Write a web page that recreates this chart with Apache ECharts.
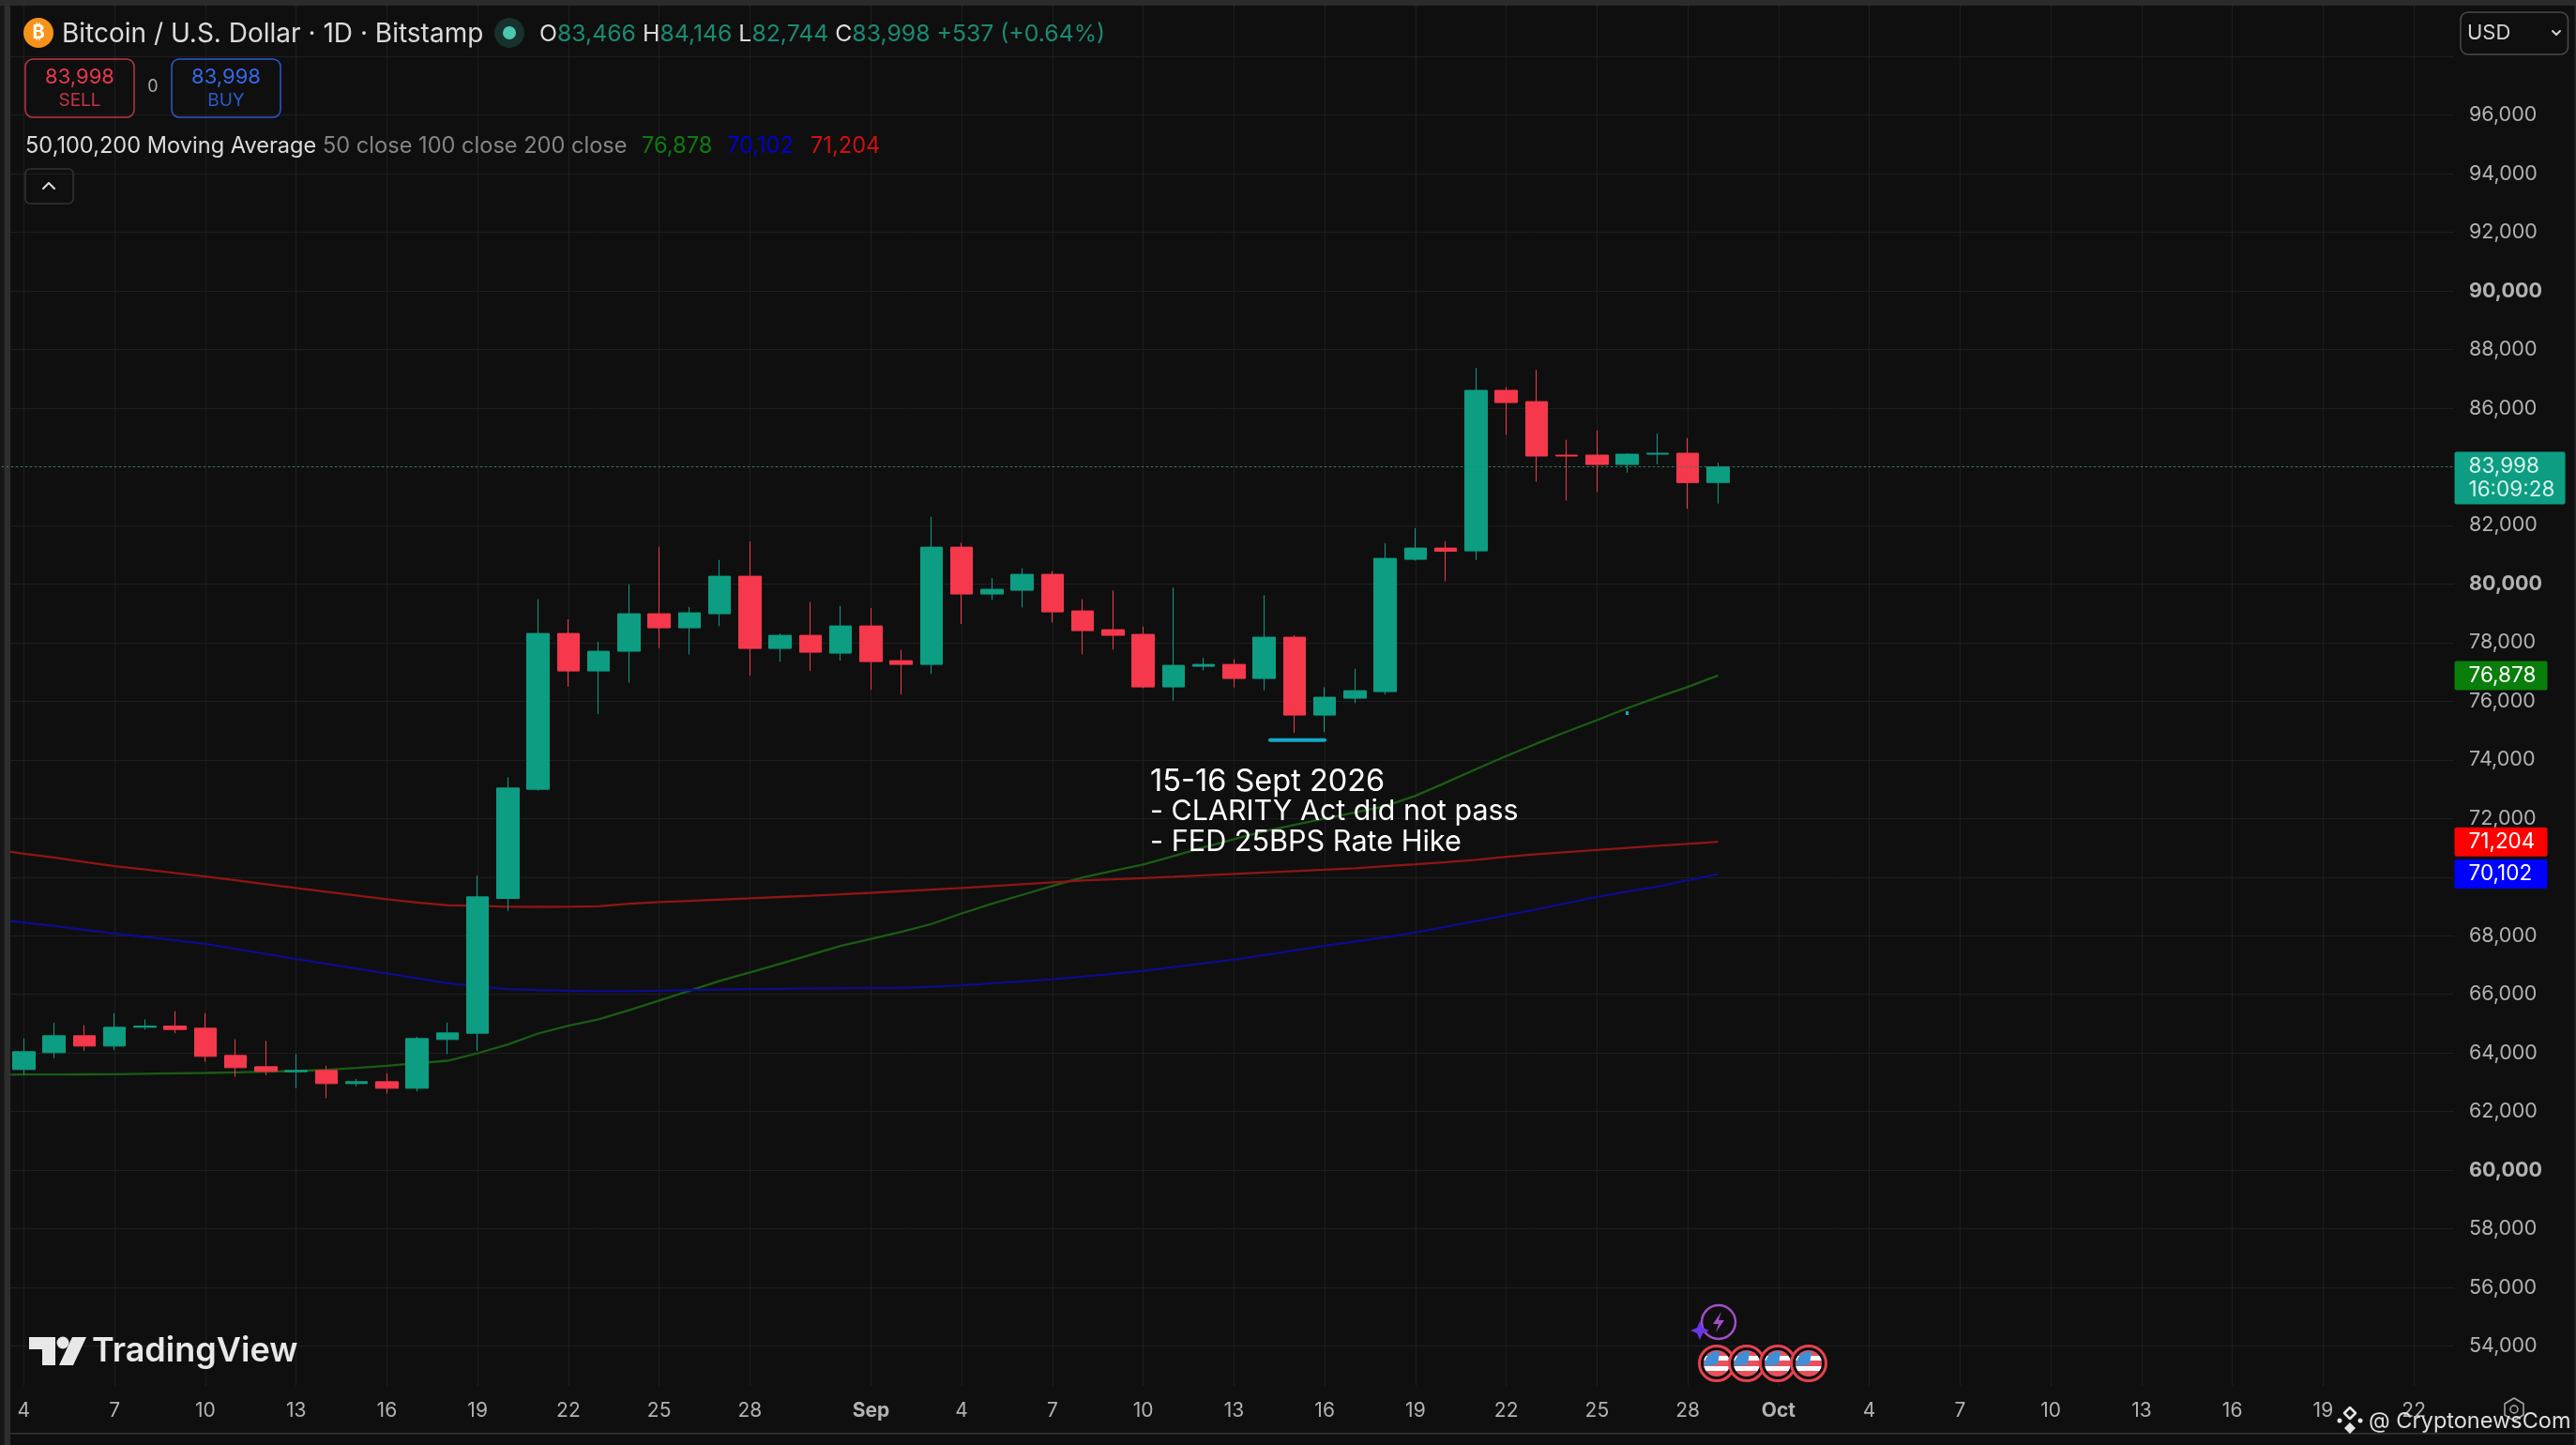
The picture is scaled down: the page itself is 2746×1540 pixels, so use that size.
<!DOCTYPE html>
<html>
<head>
<meta charset="utf-8">
<style>html,body{margin:0;padding:0;background:#0f0f0f;overflow:hidden}#chart{position:absolute;left:-40px;top:0;width:2786px;height:1540px}</style>
<script src="https://cdn.jsdelivr.net/npm/echarts@6/dist/echarts.min.js"></script>
</head>
<body>
<div id="chart"></div>
<script>
// days on the time axis, Aug 3 only sits under the left edge so the MA lines reach it
const augDays = [3,4,5,6,7,8,9,10,11,12,13,14,15,16,17,18,19,20,21,22,23,24,25,26,27,28,29,30,31];
const sepDays = [1,2,3,4,5,6,7,8,9,10,11,12,13,14,15,16,17,18,19,20,21,22,23,24,25,26,27,28,29,30];
const octDays = [1,2,3,4,5,6,7,8,9,10,11,12,13,14,15,16,17,18,19,20,21,22,23];
const categories = [...augDays.map(d => 'Aug ' + d), ...sepDays.map(d => 'Sep ' + d), ...octDays.map(d => 'Oct ' + d)];

const tickDates = ['Aug 4','Aug 7','Aug 10','Aug 13','Aug 16','Aug 19','Aug 22','Aug 25','Aug 28','Sep 1','Sep 4','Sep 7','Sep 10','Sep 13','Sep 16','Sep 19','Sep 22','Sep 25','Sep 28','Oct 1','Oct 4','Oct 7','Oct 10','Oct 13','Oct 16','Oct 19','Oct 22'];
const tickLabels = ['4','7','10','13','16','19','22','25','28','Sep','4','7','10','13','16','19','22','25','28','Oct','4','7','10','13','16','19','22'];

const priceLines = [54000,56000,58000,60000,62000,64000,66000,68000,70000,72000,74000,76000,78000,80000,82000,84000,86000,88000,90000,92000,94000,96000,98000];
const priceLabels = [54000,56000,58000,60000,62000,64000,66000,68000,70000,72000,74000,76000,78000,80000,82000,86000,88000,90000,92000,94000,96000];

const opens = ['-',63434,64011,64587,64235,64875,64918,64843,63915,63530,63360,63402,62954,63018,62794,64459,64673,69272,72997,78314,77033,77706,78986,78506,78986,80267,77802,78250,77642,78570,77385,77257,81259,79659,79787,80331,79082,78442,78282,76489,77193,77257,76777,78186,75528,76105,76329,80843,81227,81131,86608,86224,84399,84399,84079,84431,84463,83466];
const closes = ['-',64043,64587,64235,64875,64918,64800,63883,63498,63370,63402,62954,63018,62794,64491,64683,69326,73040,78314,77033,77706,78986,78506,79018,80267,77802,78250,77673,78570,77353,77257,81259,79659,79819,80331,79050,78410,78250,76489,77225,77257,76777,78186,75528,76137,76361,80875,81227,81121,86608,86192,84367,84367,84079,84431,84463,83461,83998];
const lows = ['-',63253,63819,64075,64096,64800,64672,63701,63178,63242,62794,62453,62858,62613,62687,63968,64075,68845,72950,76500,75560,76638,77812,77599,78559,76873,77353,77033,77385,76393,76233,76926,78634,79466,79200,78687,77599,77759,76446,76019,77054,76468,76372,74920,74952,75934,76233,80800,80096,80822,85093,83492,82852,83140,83802,84090,82564,82744];
const highs = ['-',64501,65035,64950,65355,65142,65430,65355,64470,64416,63968,63562,63114,63306,64555,65035,70051,73402,79477,78794,78026,79989,81270,79221,80822,81451,78314,79381,79253,79178,77748,82294,81409,80203,80534,80438,79477,79776,78549,79883,77481,77428,79616,78261,76479,77107,81398,81910,81462,87377,86726,87302,84922,85242,84453,85136,84986,84146];

const ma50 = [63250,63264,63265,63270,63274,63290,63305,63317,63340,63360,63381,63424,63490,63562,63648,63733,63990,64288,64662,64928,65144,65460,65785,66120,66457,66745,67045,67350,67652,67895,68132,68400,68760,69093,69392,69701,69990,70213,70427,70715,71014,71290,71569,71782,71996,72209,72423,72775,73223,73682,74130,74557,74963,75357,75763,76136,76489,76878];
const ma100 = [68560,68453,68330,68200,68079,67960,67845,67727,67550,67380,67204,67040,66875,66713,66545,66382,66265,66180,66150,66126,66105,66110,66126,66145,66160,66180,66190,66200,66211,66218,66222,66260,66310,66380,66445,66514,66600,66700,66800,66930,67060,67190,67340,67500,67660,67800,67950,68110,68310,68500,68700,68900,69115,69328,69505,69680,69890,70102];
const ma200 = [70950,70800,70670,70520,70373,70260,70140,70021,69895,69760,69626,69500,69370,69242,69130,69040,69018,68986,68985,68986,69007,69093,69146,69190,69232,69274,69320,69365,69413,69465,69520,69575,69626,69690,69755,69820,69883,69925,69968,70011,70060,70110,70160,70205,70250,70299,70370,70440,70512,70587,70694,70779,70855,70928,71000,71067,71135,71204];

const lastPrice = 83998;
const lastMa50 = 76878, lastMa100 = 70102, lastMa200 = 71204;

const candles = categories.map((c, i) => i < opens.length ? [opens[i], closes[i], lows[i], highs[i]] : ['-','-','-','-']);

const font = 'Inter, "Noto Sans", sans-serif';
const up = '#0d9d82', down = '#f5384c';

function fmt(v) { return String(v).replace(/(\d)(\d{3})$/, '$1,$2'); }

function txt(x, y, text, size, color, extra) {
    return {
        type: 'text', x: x, y: y, z: 20, silent: true,
        style: Object.assign({ text: text, fontSize: size, fill: color, fontFamily: font, textVerticalAlign: 'middle' }, extra || {})
    };
}

function rich(x, y, text, size, richStyles) {
    return {
        type: 'text', x: x, y: y, z: 20, silent: true,
        style: { text: text, fontSize: size, fontFamily: font, textVerticalAlign: 'middle', rich: richStyles }
    };
}

function box(x, y, w, h, r, stroke) {
    return {
        type: 'rect', z: 19, silent: true,
        shape: { x: x, y: y, width: w, height: h, r: r },
        style: { fill: 'transparent', stroke: stroke, lineWidth: 1.5 }
    };
}

function rect(x, y, w, h, fill, z) {
    return { type: 'rect', z: z, silent: true, shape: { x: x, y: y, width: w, height: h }, style: { fill: fill } };
}

function circle(cx, cy, r, fill, stroke, lw) {
    return {
        type: 'circle', z: 20, silent: true,
        shape: { cx: cx, cy: cy, r: r },
        style: { fill: fill, stroke: stroke || null, lineWidth: lw || 0 }
    };
}

function poly(points, fill, stroke, lw, type) {
    return {
        type: type || 'polygon', z: 20, silent: true,
        shape: { points: points },
        style: { fill: fill, stroke: stroke || null, lineWidth: lw || 0, lineCap: 'round', lineJoin: 'round' }
    };
}

// flag badge of an economic event
function flag(cx, cy) {
    const stripes = [];
    const colors = ['#e8515b', '#ffffff', '#e8515b', '#ffffff', '#e8515b'];
    colors.forEach((c, i) => {
        stripes.push({ offset: i / 5, color: c });
        stripes.push({ offset: (i + 1) / 5, color: c });
    });
    return [
        circle(cx, cy, 18.5, '#0f0f0f', '#e5414f', 3),
        circle(cx, cy, 14, { type: 'linear', x: 0, y: 0, x2: 0, y2: 1, colorStops: stripes }),
        {
            type: 'sector', z: 21, silent: true,
            shape: { cx: cx + 1, cy: cy + 1, r: 14, r0: 0, startAngle: Math.PI * 0.95, endAngle: Math.PI * 1.55 },
            style: { fill: '#3f8fd8' }
        }
    ];
}

const chart = echarts.init(document.getElementById('chart'));

const graphics = [
    // frame of the screenshot
    rect(0, 0, 2746, 6, '#2b2b2b', 5),
    rect(-40, 6, 44.5, 1534, '#161616', 5),
    rect(4.5, 6, 6.5, 1534, '#2e2e2e', 5),
    rect(2616, 6, 6, 1471, '#0f0f0f', 1),
    rect(11, 1527, 2735, 1.5, '#343434', 5),
    rect(2744.5, 6, 1.5, 1534, '#262626', 5),

    // symbol header
    circle(41, 35, 16, '#f7931a'),
    txt(41, 35, '₿', 20, '#ffffff', { textAlign: 'center', fontWeight: 'bold' }),
    txt(66, 37, 'Bitcoin / U.S. Dollar · 1D · Bitstamp', 28, '#dbdbdb'),
    circle(543, 35, 16, '#17312d'),
    circle(543, 35, 7, '#4cc6af'),
    rich(575, 37, '{k|O}{v|83,466} {k|H}{v|84,146} {k|L}{v|82,744} {k|C}{v|83,998} {v|+537 (+0.64%)}', 24.8, {
        k: { fontSize: 24.8, fontFamily: font, fill: '#dbdbdb', color: '#dbdbdb' },
        v: { fontSize: 24.8, fontFamily: font, fill: '#1b8a74', color: '#1b8a74' }
    }),

    // sell / buy buttons
    box(27, 63, 116, 62, 8, '#c53348'),
    txt(85, 82, '83,998', 22, '#e5394f', { textAlign: 'center' }),
    txt(85, 107, 'SELL', 19, '#c53348', { textAlign: 'center' }),
    txt(163, 93, '0', 18, '#a8a8a8', { textAlign: 'center' }),
    box(183, 63, 116, 62, 8, '#2a5bd0'),
    txt(241, 82, '83,998', 22, '#3568e8', { textAlign: 'center' }),
    txt(241, 107, 'BUY', 19, '#2a5bd0', { textAlign: 'center' }),

    // moving average legend
    txt(27, 155.5, '50,100,200 Moving Average', 23.6, '#dbdbdb'),
    txt(344, 155.5, '50 close 100 close 200 close', 23.6, '#858585'),
    txt(684, 155.5, fmt(lastMa50), 23.6, '#0e7a0e'),
    txt(775, 155.5, fmt(lastMa100), 23.6, '#0000d0'),
    txt(864, 155.5, fmt(lastMa200), 23.6, '#d01010'),
    box(27, 180, 51, 37, 5, '#333333'),
    poly([[46, 201], [52, 195], [58, 201]], 'transparent', '#dddddd', 2, 'polyline'),

    // currency button
    box(2623, 13, 114.5, 45, 8, '#4a4a4a'),
    txt(2630, 35, 'USD', 22, '#d4d4d4'),
    poly([[2721, 33], [2725, 37], [2729, 33]], 'transparent', '#d4d4d4', 2, 'polyline'),

    // note on the chart
    {
        type: 'line', z: 20, silent: true,
        shape: { x1: 1354, y1: 788.7, x2: 1412, y2: 788.7 },
        style: { stroke: '#14a8c8', lineWidth: 4, lineCap: 'round' }
    },
    rect(1733, 758, 3, 4, '#14a8c8', 20),
    txt(1226, 833, '15-16 Sept 2026', 32.5, '#ffffff'),
    txt(1226, 865, '- CLARITY Act did not pass', 30.4, '#ffffff'),
    txt(1226, 898, '- FED 25BPS Rate Hike', 30.6, '#ffffff'),

    // TradingView logo
    poly([[31, 1425], [59, 1425], [59, 1455], [45, 1455], [45, 1438], [31, 1438]], '#e8e8e8'),
    circle(67, 1431, 6.5, '#e8e8e8'),
    poly([[77, 1425], [92, 1425], [78, 1455], [63, 1455]], '#e8e8e8'),
    txt(98, 1440, 'TradingView', 36, '#e8e8e8', { fontWeight: 600 }),

    // event icons
    circle(1832, 1409, 18, 'transparent', '#a24fc9', 2.5),
    poly([[1835, 1398], [1826, 1411], [1832, 1411], [1829, 1420], [1838, 1407], [1832, 1407]], '#a24fc9'),
    poly([[1812, 1408], [1815, 1415], [1822, 1418], [1815, 1421], [1812, 1428], [1809, 1421], [1802, 1418], [1809, 1415]], '#6a35e8'),
    ...flag(1830, 1453), ...flag(1862, 1453), ...flag(1895, 1453), ...flag(1928, 1453),

    // settings icon
    poly([[2680, 1490], [2690, 1496], [2690, 1508], [2680, 1514], [2670, 1508], [2670, 1496]], 'transparent', '#aaaaaa', 1.5),
    circle(2680, 1502, 4, 'transparent', '#aaaaaa', 1.5),

    // watermark
    poly([[2505, 1500], [2511, 1506], [2505, 1512], [2499, 1506]], 'transparent', '#e6e6e6', 2.5),
    poly([[2505, 1516], [2511, 1522], [2505, 1528], [2499, 1522]], '#e6e6e6'),
    circle(2494, 1514, 2.5, '#e6e6e6'),
    circle(2516, 1514, 2.5, '#e6e6e6'),
    txt(2525, 1515, '@ CryptonewsCom', 23.5, '#dedede')
];

function tag(value, color, text) {
    return {
        symbol: 'none', silent: true, animation: false,
        lineStyle: { width: 1, color: 'rgba(0,0,0,0)' },
        data: [{ yAxis: value }],
        label: {
            show: true, position: 'end', distance: 0, offset: [-5, 0],
            formatter: text, fontSize: 22.5, fontFamily: font, color: '#ffffff',
            backgroundColor: color, borderRadius: 2,
            width: 84, height: 31, lineHeight: 31, padding: [0, 0, 0, 15], align: 'left'
        }
    };
}

function maLine(name, values, color) {
    return {
        name: name, type: 'line', data: values, z: 1,
        symbol: 'none', showSymbol: false, smooth: false, silent: true, animation: false,
        lineStyle: { color: color, width: 2.3 }
    };
}

const option = {
    backgroundColor: '#0f0f0f',
    animation: false,
    // the canvas starts 40px left of the page so the first, hidden day still fits
    grid: { left: 17.02, width: 2644.5, top: 6, height: 1471 },
    xAxis: {
        type: 'category',
        data: categories,
        boundaryGap: true,
        axisLine: { show: false },
        axisTick: { show: false },
        splitLine: {
            show: true, alignWithLabel: true,
            interval: (i, v) => tickDates.includes(v),
            lineStyle: { color: '#1e1e1e', width: 1 }
        },
        axisLabel: {
            show: true, margin: 16, hideOverlap: false,
            interval: (i, v) => tickDates.includes(v),
            formatter: v => {
                const label = tickLabels[tickDates.indexOf(v)];
                return (label === 'Sep' || label === 'Oct') ? '{b|' + label + '}' : label;
            },
            fontSize: 21, fontFamily: font, color: '#b2b2b2',
            rich: { b: { fontSize: 21, fontFamily: font, fontWeight: 'bold', color: '#b2b2b2' } }
        }
    },
    yAxis: {
        type: 'value',
        position: 'right',
        min: 52640,
        max: 99736,
        scale: true,
        axisLine: { show: false },
        axisTick: { show: false, customValues: priceLines },
        splitLine: { show: true, lineStyle: { color: '#1e1e1e', width: 1 } },
        axisLabel: {
            show: true, margin: 10.5, customValues: priceLabels,
            formatter: v => (v % 10000 === 0) ? '{b|' + fmt(v) + '}' : fmt(v),
            fontSize: 21.5, fontFamily: font, color: '#b2b2b2',
            rich: { b: { fontSize: 21.5, fontFamily: font, fontWeight: 'bold', color: '#b2b2b2' } }
        }
    },
    series: [
        Object.assign(maLine('MA 50', ma50, '#1b5c14'), { markLine: tag(lastMa50, '#0a7e0a', fmt(lastMa50)) }),
        Object.assign(maLine('MA 100', ma100, '#0c0c8c'), { markLine: tag(lastMa100, '#0000ff', fmt(lastMa100)) }),
        Object.assign(maLine('MA 200', ma200, '#8f1515'), { markLine: tag(lastMa200, '#ff0000', fmt(lastMa200)) }),
        {
            name: 'BTCUSD',
            type: 'candlestick',
            data: candles,
            z: 2,
            barWidth: 24,
            silent: true,
            itemStyle: { color: up, color0: down, borderColor: up, borderColor0: down, borderWidth: 1 },
            markLine: {
                symbol: 'none', silent: true, animation: false,
                lineStyle: { color: '#1f8a74', type: [2, 3], width: 1 },
                data: [{ yAxis: lastPrice }],
                label: {
                    show: true, position: 'end', distance: 0, offset: [-5, 12],
                    formatter: fmt(lastPrice) + '\n16:09:28',
                    fontSize: 22.5, fontFamily: font, color: '#d5f3ec',
                    backgroundColor: up, borderRadius: 2,
                    width: 103, height: 50, lineHeight: 25, padding: [3, 0, 3, 15], align: 'left'
                }
            }
        }
    ],
    graphic: { elements: [{ type: 'group', x: 40, y: 0, children: graphics }] }
};

chart.setOption(option);
</script>
</body>
</html>
